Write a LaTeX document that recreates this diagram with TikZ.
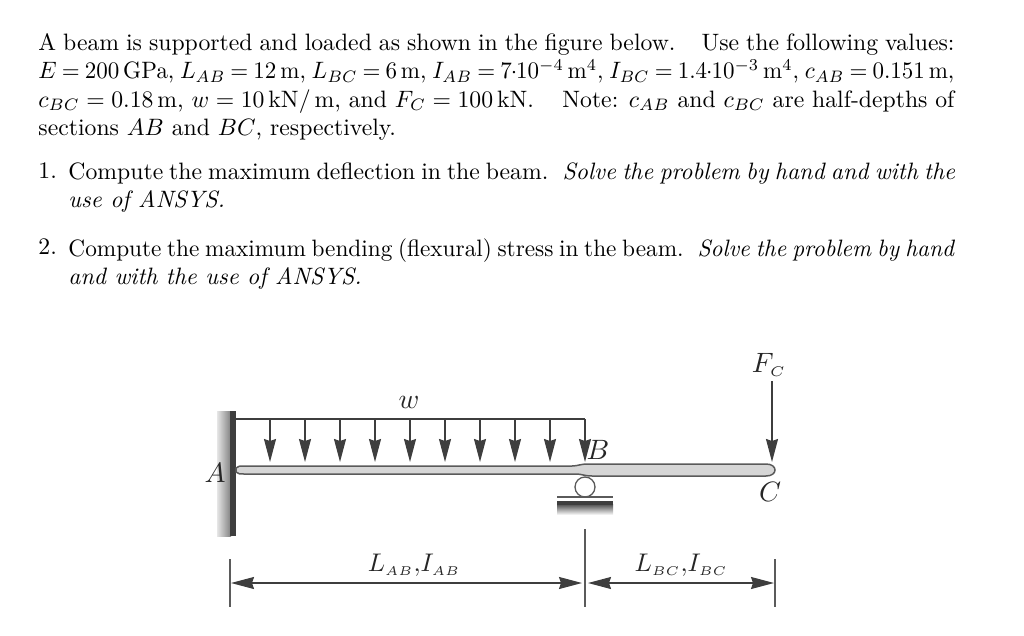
\documentclass[tikz,border=0pt]{standalone}
\usepackage{graphicx}
\usetikzlibrary{arrows.meta}
\definecolor{ink}{HTML}{3E3E3E}
\definecolor{beamfill}{HTML}{D6D6D6}
\definecolor{beamedge}{HTML}{5A5A5A}
\newcommand{\fline}[2]{\hbox to #1{#2}}
\newcommand{\ssub}[1]{_{\scriptscriptstyle #1}}
\newcommand{\tdot}{\mkern-0.8mu{\cdot}\mkern-0.8mu}
\tikzset{
  para/.style={anchor=north west,inner sep=0pt,scale=2.37,align=left},
  lbl/.style={inner sep=0pt,scale=2.8,text=black!85},
  dimlbl/.style={inner sep=0pt,scale=2.55,text=black!85},
  line/.style={draw=ink,line width=1.5pt},
  loadarrow/.style={line,-{Stealth[length=23pt,width=12pt,inset=2pt]}},
  dimarrow/.style={line,{Stealth[length=23pt,width=12pt,inset=2pt]}-{Stealth[length=23pt,width=12pt,inset=2pt]}},
  tick/.style={draw=ink!85,line width=1.2pt}
}
\begin{document}
\begin{tikzpicture}[x=1pt,y=-1pt]
\useasboundingbox (0,0) rectangle (1024,636);
% statement
\node[para] (intro) at (38,33) {\fline{386.5pt}{A beam is supported and loaded as shown in the figure below.\hspace{11pt}Use the following values:}\\
\scalebox{0.971}[1]{\fline{398pt}{\thickmuskip=4mu plus 2mu $E=200\,\mathrm{GPa}$, $L_{AB}=12\,\mathrm{m}$, $L_{BC}=6\,\mathrm{m}$, $I_{AB}=7\tdot10^{-4}\,\mathrm{m}^4$, $I_{BC}=1.4\tdot10^{-3}\,\mathrm{m}^4$, $c_{AB}=0.151\,\mathrm{m}$,}}\\
\fline{386.5pt}{$c_{BC}=0.18\,\mathrm{m}$, $w=10\,\mathrm{kN/\,m}$, and $F_C=100\,\mathrm{kN}$.\hspace{12pt}Note: $c_{AB}$ and $c_{BC}$ are half-depths of}\\
sections $AB$ and $BC$, respectively.};
\node[para] (n1) at (38,162) {1.};
\node[para] (item1) at (68,162) {\fline{374.2pt}{Compute the maximum deflection in the beam.\hspace{6pt}\textit{Solve the problem by hand and with the}}\\ \textit{use of ANSYS.}};
\node[para] (n2) at (38,238) {2.};
\node[para] (item2) at (68,238) {\scalebox{0.982}[1]{\fline{381pt}{Compute the maximum bending (flexural) stress in the beam.\hspace{6pt}\textit{Solve the problem by hand}}}\\ \textit{and with the use of ANSYS.}};
% wall
\shade[left color=black!10,right color=black!50] (217,411) rectangle (231,536);
\fill[ink] (230,411) rectangle (236,536);
% beam
\path[draw=beamedge,fill=beamfill,line width=1.5pt]
  (236,468) .. controls (238,466) and (240,466) .. (244,466) -- (572,466)
  .. controls (578,466) and (580,464) .. (588,464) -- (766,464)
  .. controls (778,464) and (778,476) .. (766,476) -- (592,476)
  .. controls (584,476) and (582,474) .. (576,474) -- (244,474)
  .. controls (240,474) and (238,474) .. (236,472) -- cycle;
% distributed load
\coordinate (la) at (236,419);
\coordinate (lb) at (585,419);
\draw[line] (la) -- (lb);
\foreach \i/\x in {1/270,2/305,3/340,4/375,5/410,6/445,7/480,8/515,9/550,10/585}{
  \coordinate (t\i) at (\x,419);
  \coordinate (h\i) at (\x,462);
  \draw[loadarrow] (t\i) -- (h\i);
}
% point load
\coordinate (ft) at (772,381);
\coordinate (fh) at (772,462);
\draw[loadarrow] (ft) -- (fh);
% roller support
\node[circle,draw=beamedge,line width=1.3pt,fill=white,minimum size=20pt,inner sep=0pt] (roller) at (585,487) {};
\coordinate (gl) at (557,497);
\coordinate (gr) at (613,497);
\draw[draw=beamedge,line width=1.3pt] (gl) -- (gr);
\shade[top color=black!70,bottom color=white] (557,504) rectangle (613,515);
\fill[ink] (557,501) rectangle (613,505);
% dimension lines
\coordinate (d1t) at (230,559);\coordinate (d1b) at (230,607);
\coordinate (d2t) at (585,529);\coordinate (d2b) at (585,607);
\coordinate (d3t) at (775,559);\coordinate (d3b) at (775,607);
\draw[tick] (d1t) -- (d1b);
\draw[tick] (d2t) -- (d2b);
\draw[tick] (d3t) -- (d3b);
\coordinate (a1) at (231,583);\coordinate (a2) at (582,583);
\coordinate (a3) at (588,583);\coordinate (a4) at (774,583);
\draw[dimarrow] (a1) -- (a2);
\draw[dimarrow] (a3) -- (a4);
% labels
\node[lbl] (w) at (409,402) {$w$};
\node[lbl] (A) at (215,473) {$A$};
\node[lbl] (B) at (598,450) {$B$};
\node[lbl] (C) at (770,492) {$C$};
\node[lbl] (FC) at (769,365) {$F\ssub{C}$};
\node[dimlbl] (LAB) at (414,565) {$L\ssub{AB}{,}I\ssub{AB}$};
\node[dimlbl] (LBC) at (681,565) {$L\ssub{BC}{,}I\ssub{BC}$};
\end{tikzpicture}
\end{document}
